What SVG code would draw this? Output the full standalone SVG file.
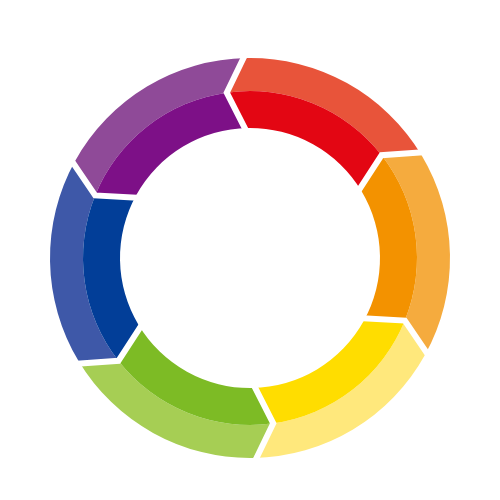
<svg xmlns="http://www.w3.org/2000/svg" width="500" height="500" viewBox="0 0 500 500">
  <style>
    .gap { fill: none; stroke: #ffffff; stroke-width: 6; stroke-linejoin: miter; stroke-miterlimit: 10; }
  </style>
  <rect width="500" height="500" fill="#ffffff"/>
  <g id="segment-red">
    <path fill="#E8543A" d="M246.51,58.03 A200,200 0 0 1 421.43,154.99 L381.60,155.18 A167,167 0 0 0 226.76,92.63 Z"/>
    <path fill="#E30613" d="M226.76,92.63 A167,167 0 0 1 381.60,155.18 L361.43,191.05 A130,130 0 0 0 247.73,128.02 Z"/>
  </g>
  <g id="segment-orange">
    <path fill="#F5AB3E" d="M421.43,154.99 A200,200 0 0 1 424.92,354.96 L404.84,320.56 A167,167 0 0 0 381.60,155.18 Z"/>
    <path fill="#F39200" d="M381.60,155.18 A167,167 0 0 1 404.84,320.56 L363.70,321.03 A130,130 0 0 0 361.43,191.05 Z"/>
  </g>
  <g id="segment-yellow">
    <path fill="#FFE87C" d="M424.92,354.96 A200,200 0 0 1 253.49,457.97 L273.24,423.37 A167,167 0 0 0 404.84,320.56 Z"/>
    <path fill="#FFDD00" d="M404.84,320.56 A167,167 0 0 1 273.24,423.37 L252.27,387.98 A130,130 0 0 0 363.70,321.03 Z"/>
  </g>
  <g id="segment-green">
    <path fill="#A6CE54" d="M253.49,457.97 A200,200 0 0 1 78.57,361.01 L118.40,360.82 A167,167 0 0 0 273.24,423.37 Z"/>
    <path fill="#7DBB25" d="M273.24,423.37 A167,167 0 0 1 118.40,360.82 L138.57,324.95 A130,130 0 0 0 252.27,387.98 Z"/>
  </g>
  <g id="segment-blue">
    <path fill="#3E58A8" d="M78.57,361.01 A200,200 0 0 1 75.08,161.04 L95.16,195.44 A167,167 0 0 0 118.40,360.82 Z"/>
    <path fill="#023E98" d="M118.40,360.82 A167,167 0 0 1 95.16,195.44 L136.30,194.97 A130,130 0 0 0 138.57,324.95 Z"/>
  </g>
  <g id="segment-purple">
    <path fill="#8F4A98" d="M75.08,161.04 A200,200 0 0 1 246.51,58.03 L226.76,92.63 A167,167 0 0 0 95.16,195.44 Z"/>
    <path fill="#7D1087" d="M95.16,195.44 A167,167 0 0 1 226.76,92.63 L247.73,128.02 A130,130 0 0 0 136.30,194.97 Z"/>
  </g>
  <g id="gaps">
    <polyline class="gap" points="246.40,52.03 226.76,92.63 247.84,134.02"/>
    <polyline class="gap" points="426.58,151.90 381.60,155.18 356.29,194.14"/>
    <polyline class="gap" points="430.17,357.87 404.84,320.56 358.45,318.12"/>
    <polyline class="gap" points="253.60,463.97 273.24,423.37 252.16,381.98"/>
    <polyline class="gap" points="73.42,364.10 118.40,360.82 143.71,321.86"/>
    <polyline class="gap" points="69.83,158.13 95.16,195.44 141.55,197.88"/>
  </g>
</svg>
